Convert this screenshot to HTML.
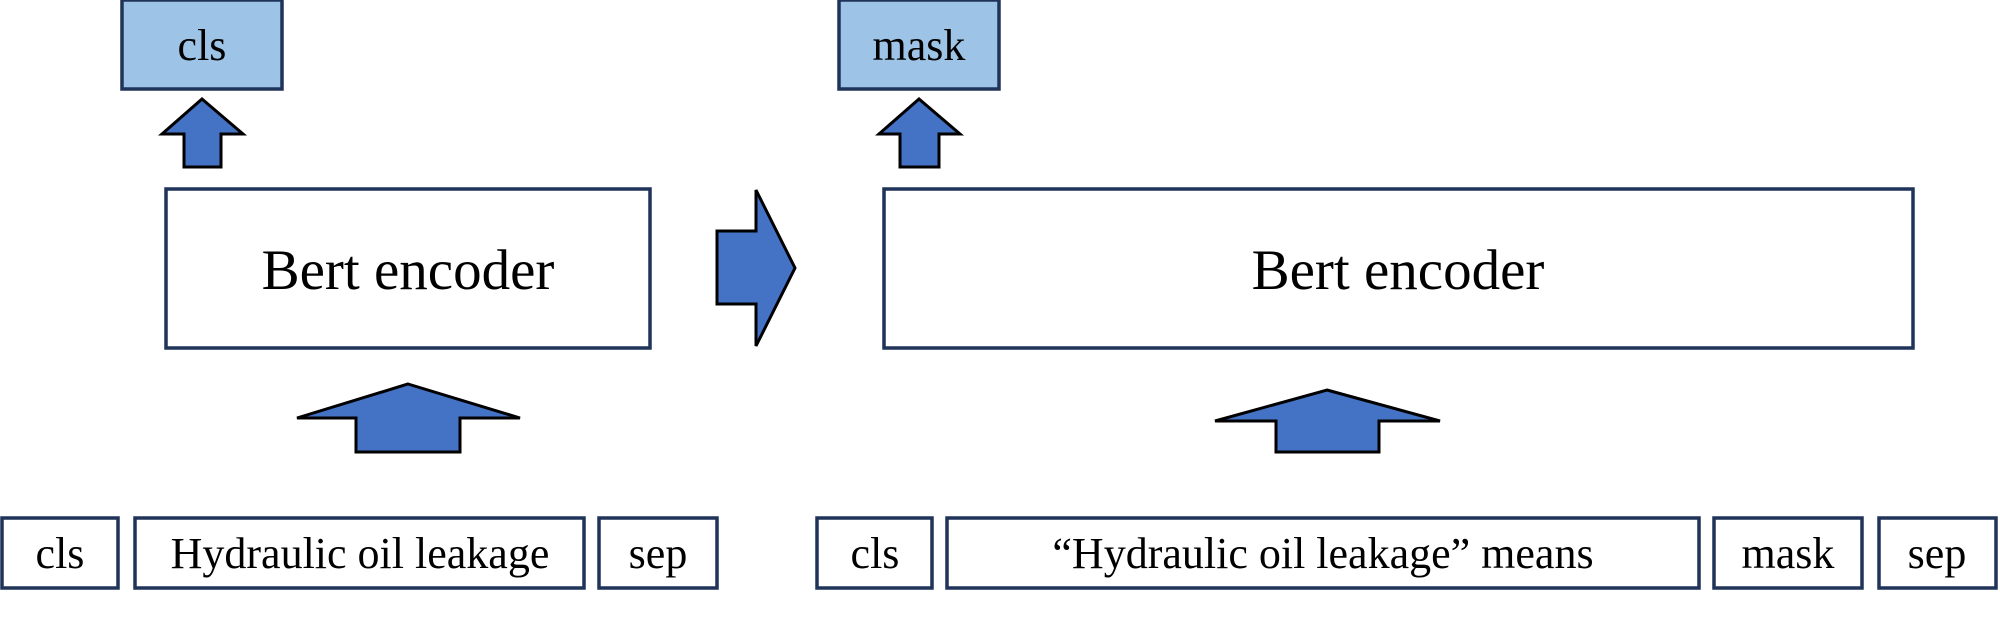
<!DOCTYPE html>
<html><head><meta charset="utf-8"><style>
body{margin:0;background:#fff;}
svg{display:block}
text{font-family:"Liberation Serif",serif;fill:#000;}
</style></head><body>
<svg width="2000" height="617" viewBox="0 0 2000 617" xmlns="http://www.w3.org/2000/svg">
<g stroke="#1f3458" stroke-width="3.5">
<rect x="122" y="0" width="160" height="89" fill="#9dc3e6"/>
<rect x="839" y="0" width="160" height="89" fill="#9dc3e6"/>
<rect x="166" y="189" width="484" height="159" fill="#fff"/>
<rect x="884" y="189" width="1029" height="159" fill="#fff"/>
<rect x="2" y="518" width="116" height="70" fill="#fff"/>
<rect x="135" y="518" width="449" height="70" fill="#fff"/>
<rect x="599" y="518" width="118" height="70" fill="#fff"/>
<rect x="817" y="518" width="115" height="70" fill="#fff"/>
<rect x="947" y="518" width="752" height="70" fill="#fff"/>
<rect x="1714" y="518" width="148" height="70" fill="#fff"/>
<rect x="1879" y="518" width="117" height="70" fill="#fff"/>
</g>
<g fill="#4472c4" stroke="#000" stroke-width="3" stroke-linejoin="miter">
<polygon points="202,99 243,134 221,134 221,167 184,167 184,134 162,134"/>
<polygon points="919,99 960,134 939,134 939,167 900,167 900,134 879,134"/>
<polygon points="717,231 756,231 756,190 795,268 756,346 756,304 717,304"/>
<polygon points="408,384 520,418 460,418 460,452 356,452 356,418 297,418"/>
<polygon points="1327,390 1440,421 1379,421 1379,452 1276,452 1276,421 1215,421"/>
</g>
<g font-size="44" text-anchor="middle">
<text x="202" y="60">cls</text>
<text x="919" y="60">mask</text>
<text x="60" y="568">cls</text>
<text x="360" y="568">Hydraulic oil leakage</text>
<text x="658" y="568">sep</text>
<text x="875" y="568">cls</text>
<text x="1323" y="568">“Hydraulic oil leakage” means</text>
<text x="1788" y="568">mask</text>
<text x="1937" y="568">sep</text>
</g>
<g font-size="57" text-anchor="middle">
<text x="408" y="289">Bert encoder</text>
<text x="1398" y="289">Bert encoder</text>
</g>
</svg>
</body></html>
